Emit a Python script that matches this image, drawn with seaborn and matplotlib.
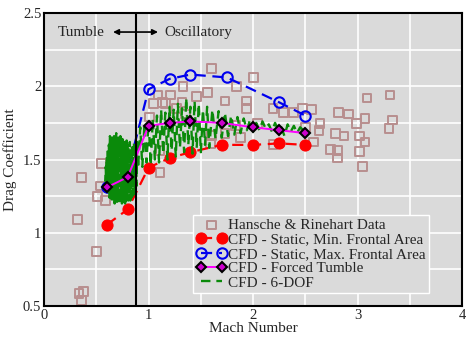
"""Drag coefficient vs Mach number: wind tunnel data and CFD results."""

import matplotlib
matplotlib.use("Agg")
import matplotlib.pyplot as plt
import seaborn as sns
from matplotlib.ticker import MultipleLocator

# Hansche & Rinehart data
hr_mach = [0.32, 0.335, 0.375, 0.36, 0.36, 0.50, 0.51, 0.54, 0.55, 0.59,
           1.01, 1.05, 1.09, 1.11, 1.11, 1.13, 1.16, 1.21, 1.27, 1.32,
           1.33, 1.35, 1.46, 1.56, 1.59, 1.60, 1.60, 1.73, 1.73, 1.83,
           1.84, 1.88, 1.94, 1.94, 2.00, 2.04, 2.19, 2.19, 2.29, 2.39,
           2.47, 2.50, 2.56, 2.58, 2.64, 2.63, 2.74, 2.79, 2.81, 2.81,
           2.82, 2.87, 2.91, 2.99, 3.02, 3.02, 3.05, 3.07, 3.07, 3.09,
           3.30, 3.31, 3.33]
hr_cd = [1.09, 0.585, 0.60, 0.54, 1.38, 0.87, 1.25, 1.32, 1.475, 1.22,
         1.79, 1.88, 1.94, 1.41, 1.56, 1.89, 1.88, 1.94, 1.85, 1.89,
         2.00, 1.81, 1.93, 1.96, 1.61, 1.665, 2.12, 1.90, 1.68, 1.73,
         2.00, 1.65, 1.90, 1.85, 2.06, 1.745, 1.85, 1.60, 1.82, 1.82,
         1.85, 1.72, 1.84, 1.62, 1.745, 1.70, 1.57, 1.68, 1.56, 1.51,
         1.82, 1.66, 1.81, 1.745, 1.66, 1.555, 1.45, 1.62, 1.78, 1.92,
         1.71, 1.94, 1.77]

# CFD - static, minimum frontal area
min_mach = [0.6, 0.8, 1.0, 1.2, 1.4, 1.7, 2.0, 2.25, 2.5]
min_cd = [1.055, 1.16, 1.445, 1.51, 1.55, 1.60, 1.60, 1.61, 1.60]

# CFD - static, maximum frontal area
max_mach = [0.6, 0.8, 1.0, 1.2, 1.4, 1.75, 2.25, 2.5]
max_cd = [1.31, 1.42, 1.98, 2.05, 2.08, 2.06, 1.89, 1.80]

# CFD - forced tumble
ft_mach = [0.6, 0.8, 1.0, 1.2, 1.4, 1.7, 2.0, 2.25, 2.5]
ft_cd = [1.31, 1.38, 1.73, 1.75, 1.76, 1.75, 1.72, 1.70, 1.68]

# CFD - 6-DOF trajectory
dof_mach = [2.48, 2.45, 2.42, 2.39, 2.36, 2.33, 2.30, 2.27, 2.24, 2.21,
            2.18, 2.15, 2.12, 2.09, 2.06, 2.03, 2.00, 1.97, 1.94, 1.91,
            1.88, 1.85, 1.82, 1.79, 1.76, 1.73, 1.70, 1.67, 1.64, 1.61,
            1.58, 1.56, 1.54, 1.52, 1.50, 1.48, 1.46, 1.44, 1.42, 1.40,
            1.38, 1.36, 1.34, 1.32, 1.30, 1.28, 1.26, 1.24, 1.22, 1.20,
            1.18, 1.16, 1.14, 1.12, 1.10, 1.08, 1.06, 1.04, 1.02, 1.00,
            0.98, 0.96, 0.94, 0.92, 0.90,
            0.89, 0.885, 0.88, 0.875, 0.87, 0.865, 0.86, 0.855, 0.85, 0.845,
            0.84, 0.835, 0.83, 0.825, 0.82, 0.815, 0.81, 0.805, 0.80, 0.795,
            0.79, 0.785, 0.78, 0.775, 0.77, 0.765, 0.76, 0.755, 0.75, 0.745,
            0.74, 0.735, 0.73, 0.725, 0.72, 0.715, 0.71, 0.705, 0.70, 0.695,
            0.69, 0.685, 0.68, 0.675, 0.67, 0.665, 0.66, 0.655, 0.65, 0.645,
            0.64, 0.635, 0.63, 0.625, 0.62, 0.615, 0.61, 0.605, 0.60, 0.595,
            0.59, 0.585]
dof_cd = [1.70, 1.72, 1.68, 1.73, 1.69, 1.74, 1.66, 1.72, 1.70, 1.75,
          1.69, 1.74, 1.71, 1.76, 1.70, 1.75, 1.69, 1.77, 1.70, 1.78,
          1.68, 1.79, 1.67, 1.80, 1.66, 1.82, 1.65, 1.83, 1.64, 1.84,
          1.58, 1.86, 1.60, 1.84, 1.55, 1.88, 1.58, 1.90, 1.54, 1.86,
          1.60, 1.92, 1.55, 1.85, 1.58, 1.88, 1.52, 1.84, 1.56, 1.86,
          1.50, 1.82, 1.54, 1.84, 1.48, 1.80, 1.50, 1.78, 1.46, 1.76,
          1.48, 1.74, 1.45, 1.72, 1.44,
          1.62, 1.32, 1.60, 1.30, 1.58, 1.28, 1.62, 1.26, 1.58, 1.25,
          1.60, 1.24, 1.56, 1.22, 1.62, 1.25, 1.58, 1.22, 1.60, 1.24,
          1.63, 1.22, 1.58, 1.20, 1.62, 1.23, 1.60, 1.21, 1.64, 1.20,
          1.62, 1.22, 1.66, 1.21, 1.63, 1.20, 1.65, 1.23, 1.62, 1.20,
          1.68, 1.22, 1.64, 1.20, 1.66, 1.24, 1.62, 1.22, 1.65, 1.23,
          1.63, 1.22, 1.66, 1.24, 1.60, 1.26, 1.58, 1.28, 1.52, 1.30,
          1.45, 1.35]

sns.set_style("darkgrid", {
    "axes.facecolor": "#dadada",
    "grid.color": "white",
    "axes.edgecolor": "black",
})
plt.rcParams["font.family"] = ["Liberation Serif", "DejaVu Serif"]

fig, ax = plt.subplots(figsize=(4.74, 3.51), dpi=100)
fig.subplots_adjust(left=0.093, right=0.975, bottom=0.128, top=0.963)

sns.scatterplot(x=hr_mach, y=hr_cd, ax=ax, marker="s", s=40,
                facecolor="none", edgecolor="#b88e8e", linewidth=1.4,
                label="Hansche & Rinehart Data", zorder=3)
sns.lineplot(x=min_mach, y=min_cd, ax=ax, color="red", linestyle=(0, (5, 3)),
             lw=1.6, marker="o", markersize=8, markerfacecolor="red",
             markeredgecolor="red", label="CFD - Static, Min. Frontal Area",
             sort=False, estimator=None, zorder=4)
sns.lineplot(x=max_mach, y=max_cd, ax=ax, color="#0000ee", linestyle=(0, (5, 3)),
             lw=1.6, marker="o", markersize=7.5, markerfacecolor="none",
             markeredgecolor="#0000ee", markeredgewidth=1.5,
             label="CFD - Static, Max. Frontal Area",
             sort=False, estimator=None, zorder=4)
sns.lineplot(x=dof_mach, y=dof_cd, ax=ax, color="#0a8a0a", linestyle=(0, (4, 2.5)),
             lw=1.7, label="CFD - 6-DOF", sort=False, estimator=None, zorder=5)
sns.lineplot(x=ft_mach, y=ft_cd, ax=ax, color="#ff00ff", linestyle="-",
             lw=1.4, marker="D", markersize=5.5, markerfacecolor="#cc00cc",
             markeredgecolor="black", markeredgewidth=1.5,
             label="CFD - Forced Tumble", sort=False, estimator=None, zorder=6)

ax.axvline(0.88, color="black", lw=1.5, zorder=7)
ax.annotate("", xy=(0.66, 2.37), xytext=(1.09, 2.37),
            arrowprops=dict(arrowstyle="<|-|>", color="black", lw=1.2,
                            mutation_scale=8, shrinkA=0, shrinkB=0))
ax.text(0.58, 2.37, "Tumble", ha="right", va="center", fontsize=11)
ax.text(1.15, 2.37, "Oscillatory", ha="left", va="center", fontsize=11)

ax.set_xlim(0, 4)
ax.set_ylim(0.5, 2.5)
ax.xaxis.set_major_locator(MultipleLocator(1))
ax.xaxis.set_minor_locator(MultipleLocator(0.5))
ax.yaxis.set_major_locator(MultipleLocator(0.5))
ax.yaxis.set_minor_locator(MultipleLocator(0.25))
ax.set_yticks([0.5, 1, 1.5, 2, 2.5])
ax.set_yticklabels(["0.5", "1", "1.5", "2", "2.5"])
ax.grid(which="both", color="white", lw=1.2)
ax.tick_params(labelsize=10.5, length=0, pad=2)
for sp in ax.spines.values():
    sp.set_linewidth(1.5)
    sp.set_zorder(8)

ax.set_xlabel("Mach Number", fontsize=11, labelpad=0)
ax.set_ylabel("Drag Coefficient", fontsize=11, labelpad=4)

handles, labels = ax.get_legend_handles_labels()
order = ["Hansche & Rinehart Data", "CFD - Static, Min. Frontal Area",
         "CFD - Static, Max. Frontal Area", "CFD - Forced Tumble", "CFD - 6-DOF"]
hmap = dict(zip(labels, handles))
leg = ax.legend([hmap[k] for k in order], order, loc="lower right",
                bbox_to_anchor=(0.92, 0.045), fontsize=11, frameon=True,
                fancybox=False, framealpha=1, edgecolor="white",
                scatterpoints=1, numpoints=2, handlelength=2.0,
                handletextpad=0.1, borderpad=0.2, labelspacing=0.05,
                borderaxespad=0)
leg.set_zorder(10)

fig.savefig("out.png", dpi=100)
